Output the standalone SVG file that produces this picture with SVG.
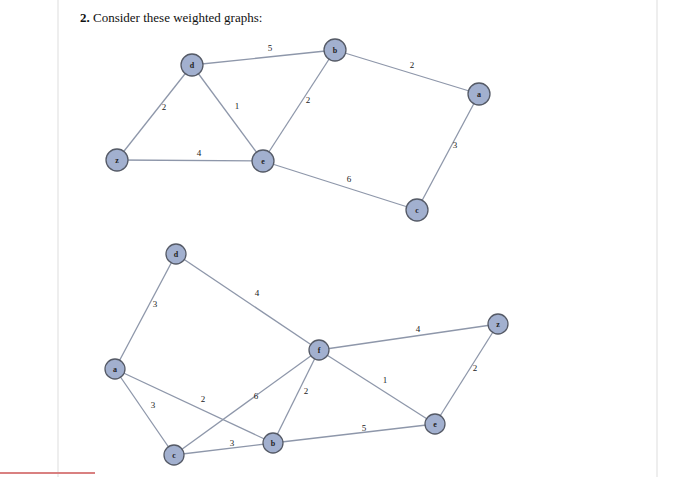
<svg xmlns="http://www.w3.org/2000/svg" width="700" height="477" viewBox="0 0 700 477">
<style>
.e{stroke:#8e97aa;stroke-width:1.3;fill:none}
.n circle{fill:#a2b0cf;stroke:#555a66;stroke-width:1.3}
.n text,.w{font-family:"Liberation Serif",serif;font-size:9px;fill:#222;text-anchor:middle}
.n text{font-weight:bold;font-size:8px}
</style>
<rect width="700" height="477" fill="#fff"/>
<line x1="58" y1="0" x2="58" y2="477" stroke="#ddd"/>
<line x1="657" y1="0" x2="657" y2="477" stroke="#ddd"/>
<line x1="0" y1="473" x2="95" y2="473" stroke="#d98080" stroke-width="2"/>
<text x="80" y="22" font-family="Liberation Serif,serif" font-size="13" fill="#111"><tspan font-weight="bold">2.</tspan>  Consider these weighted graphs:</text>
<g id="connectors">
<line class="e" x1="192" y1="65" x2="335" y2="50"/>
<line class="e" x1="335" y1="50" x2="479" y2="94"/>
<line class="e" x1="192" y1="65" x2="117" y2="160"/>
<line class="e" x1="192" y1="65" x2="263" y2="161"/>
<line class="e" x1="335" y1="50" x2="263" y2="161"/>
<line class="e" x1="117" y1="160" x2="263" y2="161"/>
<line class="e" x1="263" y1="161" x2="417" y2="210"/>
<line class="e" x1="479" y1="94" x2="417" y2="210"/>
<line class="e" x1="176" y1="254" x2="115" y2="369"/>
<line class="e" x1="176" y1="254" x2="319" y2="350"/>
<line class="e" x1="319" y1="350" x2="498" y2="324"/>
<line class="e" x1="498" y1="324" x2="435" y2="424"/>
<line class="e" x1="319" y1="350" x2="435" y2="424"/>
<line class="e" x1="319" y1="350" x2="273" y2="443"/>
<line class="e" x1="319" y1="350" x2="174" y2="455"/>
<line class="e" x1="115" y1="369" x2="273" y2="443"/>
<line class="e" x1="115" y1="369" x2="174" y2="455"/>
<line class="e" x1="174" y1="455" x2="273" y2="443"/>
<line class="e" x1="273" y1="443" x2="435" y2="424"/>
</g>
<g id="weights">
<text class="w" x="270" y="51">5</text><text class="w" x="412" y="68">2</text>
<text class="w" x="164" y="110">2</text><text class="w" x="237" y="109">1</text>
<text class="w" x="308" y="103">2</text><text class="w" x="199" y="156">4</text>
<text class="w" x="349" y="182">6</text><text class="w" x="455" y="148">3</text>
<text class="w" x="155" y="307">3</text><text class="w" x="257" y="296">4</text>
<text class="w" x="418" y="332">4</text><text class="w" x="475" y="371">2</text>
<text class="w" x="385" y="383">1</text><text class="w" x="306" y="394">2</text>
<text class="w" x="256" y="399">6</text><text class="w" x="203" y="402">2</text>
<text class="w" x="153" y="408">3</text><text class="w" x="232" y="446">3</text>
<text class="w" x="364" y="431">5</text>
</g>
<g id="g1-d" class="n"><circle cx="192" cy="65" r="11"/><text x="192" y="68">d</text></g>
<g id="g1-b" class="n"><circle cx="335" cy="50" r="11"/><text x="335" y="53">b</text></g>
<g id="g1-a" class="n"><circle cx="479" cy="94" r="11"/><text x="479" y="97">a</text></g>
<g id="g1-z" class="n"><circle cx="117" cy="160" r="11"/><text x="117" y="163">z</text></g>
<g id="g1-e" class="n"><circle cx="263" cy="161" r="11"/><text x="263" y="164">e</text></g>
<g id="g1-c" class="n"><circle cx="417" cy="210" r="11"/><text x="417" y="213">c</text></g>
<g id="g2-d" class="n"><circle cx="176" cy="254" r="10"/><text x="176" y="257">d</text></g>
<g id="g2-a" class="n"><circle cx="115" cy="369" r="10"/><text x="115" y="372">a</text></g>
<g id="g2-f" class="n"><circle cx="319" cy="350" r="10"/><text x="319" y="353">f</text></g>
<g id="g2-z" class="n"><circle cx="498" cy="324" r="10"/><text x="498" y="327">z</text></g>
<g id="g2-e" class="n"><circle cx="435" cy="424" r="10"/><text x="435" y="427">e</text></g>
<g id="g2-b" class="n"><circle cx="273" cy="443" r="10"/><text x="273" y="446">b</text></g>
<g id="g2-c" class="n"><circle cx="174" cy="455" r="10"/><text x="174" y="458">c</text></g>
</svg>
